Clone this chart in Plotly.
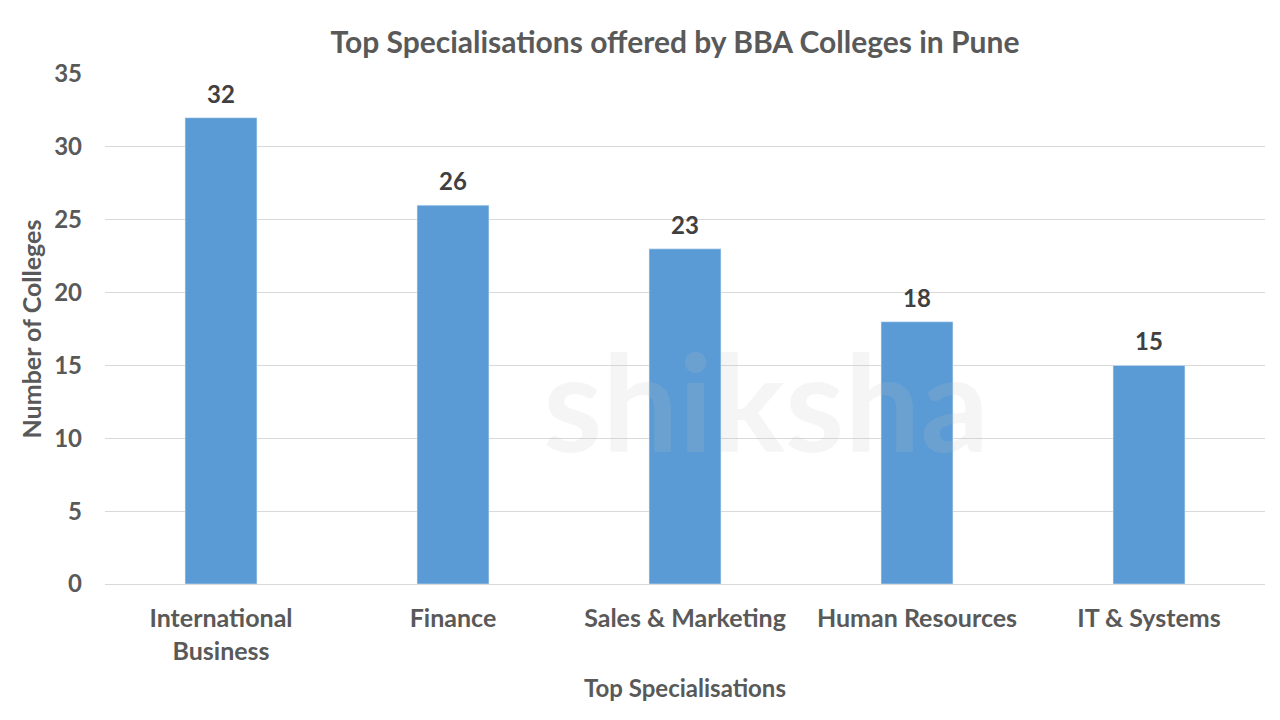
import plotly.graph_objects as go

# chart data
specialisations = ['International<br>Business', 'Finance', 'Sales & Marketing',
                   'Human Resources', 'IT & Systems']
num_colleges = [32, 26, 23, 18, 15]
y_ticks = [0, 5, 10, 15, 20, 25, 30, 35]

FONT = 'Lato, Open Sans, sans-serif'
GREY = '#595959'

fig = go.Figure()

fig.add_trace(
    go.Bar(
        x=specialisations,
        y=num_colleges,
        marker=dict(color='#5B9BD5'),
        width=0.31,
    )
)

# value labels above bars
for cat, val in zip(specialisations, num_colleges):
    fig.add_annotation(
        x=cat, y=val, text=str(val), showarrow=False,
        yanchor='bottom', yshift=8,
        font=dict(family=FONT, size=24, color='#404040', weight='bold'),
    )

# faint watermark
fig.add_annotation(
    text='shiksha', x=0.57, y=0.36, xref='paper', yref='paper',
    showarrow=False,
    font=dict(family=FONT, size=135, color='rgba(190,190,190,0.16)', weight='bold'),
)

# page body adds an 8px offset, margins compensate for it
fig.update_layout(
    width=1280,
    height=720,
    paper_bgcolor='white',
    plot_bgcolor='white',
    showlegend=False,
    margin=dict(l=97, r=23, t=66, b=144),
    title=dict(
        text='Top Specialisations offered by BBA Colleges in Pune',
        xref='container', x=(675 - 8) / 1280, xanchor='center',
        y=1 - 34 / 720, yanchor='middle',
        font=dict(family=FONT, size=30, color=GREY, weight='bold'),
    ),
    bargap=0.69,
)

fig.update_yaxes(
    range=[0, 35],
    tickvals=y_ticks,
    gridcolor='#D9D9D9',
    gridwidth=1,
    zeroline=False,
    showline=False,
    ticks='',
    ticklabelstandoff=22,
    tickfont=dict(family=FONT, size=24, color=GREY, weight='bold'),
    title=dict(text='Number of Colleges', standoff=5,
               font=dict(family=FONT, size=25, color=GREY, weight='bold')),
)

fig.update_xaxes(
    showline=True,
    linecolor='#D9D9D9',
    linewidth=1,
    ticks='',
    ticklabelstandoff=12,
    tickfont=dict(family=FONT, size=25, color=GREY, weight='bold'),
    title=dict(text='Top Specialisations', standoff=16,
               font=dict(family=FONT, size=24, color=GREY, weight='bold')),
)

fig.write_html('out.html')
